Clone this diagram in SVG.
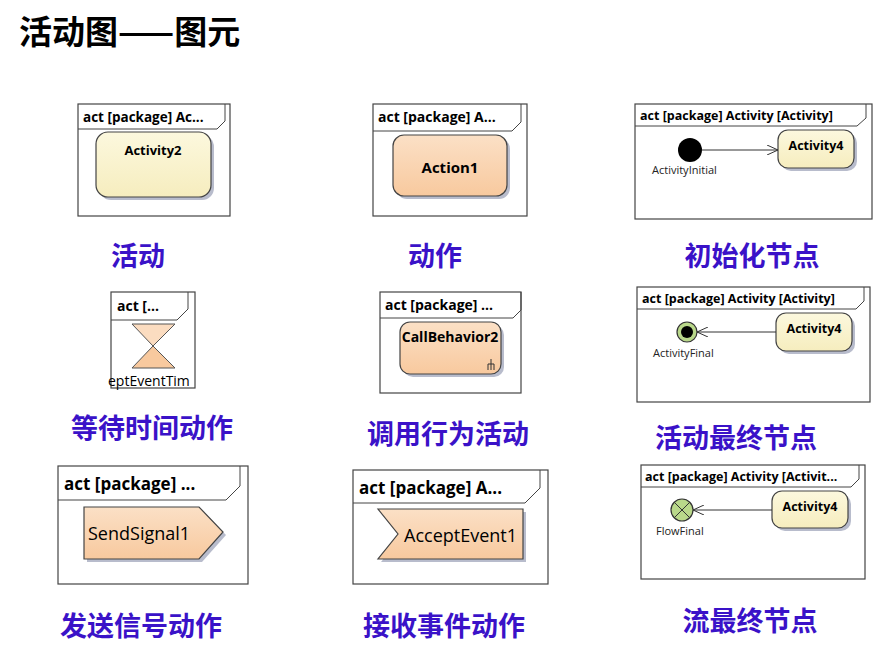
<svg xmlns="http://www.w3.org/2000/svg" width="875" height="656" viewBox="0 0 875 656">
<defs>
<linearGradient id="gy" x1="0" y1="0" x2="0" y2="1"><stop offset="0" stop-color="#fcf8de"/><stop offset="1" stop-color="#f6edbe"/></linearGradient>
<linearGradient id="go" x1="0" y1="0" x2="0" y2="1"><stop offset="0" stop-color="#fbe0c6"/><stop offset="1" stop-color="#f8c99e"/></linearGradient>
<marker id="oa" markerWidth="12" markerHeight="10" refX="11" refY="5" orient="auto" markerUnits="userSpaceOnUse"><path d="M0,0 L11,5 L0,10" fill="none" stroke="#333" stroke-width="1"/></marker>
</defs>
<style>
.fr{fill:#fff;stroke:#444;stroke-width:1.2}
.hd{fill:none;stroke:#444;stroke-width:1}
.ft{font-family:"Open Sans","Noto Sans",sans-serif;font-weight:bold;fill:#000}
.lb{font-family:"Open Sans","Noto Sans",sans-serif;font-size:11px;fill:#222}
.cap{font-family:"Noto Sans CJK SC",sans-serif;font-weight:bold;font-size:27px;fill:#3a12c8}
.sh{fill:#b8bccc}
.ny{fill:url(#gy);stroke:#444;stroke-width:1.2}
.no{fill:url(#go);stroke:#444;stroke-width:1.2}
.cn{fill:none;stroke:#333;stroke-width:1}
</style>
<text x="19" y="44" font-family="Noto Sans CJK SC,sans-serif" font-weight="bold" font-size="33" fill="#000">活动图——图元</text>

<g id="f-activity">
<rect class="fr" x="78" y="104" width="152" height="112"/>
<path class="hd" d="M78,129 H217 L225,121 V104"/>
<text class="ft" x="83" y="122" font-size="13.5">act [package] Ac...</text>
<rect class="sh" x="99" y="135" width="115" height="65" rx="12"/>
<rect class="ny" x="96" y="132" width="115" height="65" rx="12"/>
<text class="ft" x="153" y="155" text-anchor="middle" font-size="13">Activity2</text>
</g>
<g id="f-action">
<rect class="fr" x="373" y="104" width="154" height="112"/>
<path class="hd" d="M373,131 H512 L521,122 V104"/>
<text class="ft" x="378" y="122" font-size="14">act [package] A...</text>
<rect class="sh" x="396" y="138" width="114" height="61" rx="11"/>
<rect class="no" x="393" y="135" width="114" height="61" rx="11"/>
<text class="ft" x="450" y="173" text-anchor="middle" font-size="15">Action1</text>
</g>
<g id="f-initial">
<rect class="fr" x="635" y="104" width="237" height="115"/>
<path class="hd" d="M635,126 H857 L866,118 V104"/>
<text class="ft" x="640" y="120" font-size="12.5">act [package] Activity [Activity]</text>
<circle cx="690" cy="150" r="12" fill="#000"/>
<text class="lb" x="652" y="174">ActivityInitial</text>
<rect class="sh" x="781" y="133" width="76" height="38" rx="10"/>
<rect class="ny" x="778" y="130" width="76" height="38" rx="10"/>
<text class="ft" x="816" y="150" text-anchor="middle" font-size="12.5">Activity4</text>
</g>
<g id="f-final">
<rect class="fr" x="637" y="287" width="233" height="115"/>
<path class="hd" d="M637,309 H856 L864,301 V287"/>
<text class="ft" x="642" y="303" font-size="12.5">act [package] Activity [Activity]</text>
<circle cx="687" cy="332" r="10" fill="#b9d88a" stroke="#333" stroke-width="1.2"/>
<circle cx="687" cy="332" r="6" fill="#000"/>
<text class="lb" x="653" y="357">ActivityFinal</text>
<rect class="sh" x="779" y="316" width="76" height="38" rx="10"/>
<rect class="ny" x="776" y="313" width="76" height="38" rx="10"/>
<text class="ft" x="814" y="333" text-anchor="middle" font-size="12.5">Activity4</text>
</g>
<g id="f-flowfinal">
<rect class="fr" x="641" y="465" width="224" height="114"/>
<path class="hd" d="M641,487 H851 L859,479 V465"/>
<text class="ft" x="645" y="481" font-size="12.5">act [package] Activity [Activit...</text>
<circle cx="682" cy="510" r="11" fill="#b9d88a" stroke="#333" stroke-width="1.2"/>
<path d="M674.2,502.2 L689.8,517.8 M689.8,502.2 L674.2,517.8" stroke="#333" stroke-width="1"/>
<text class="lb" x="656" y="535">FlowFinal</text>
<rect class="sh" x="775" y="494" width="76" height="37" rx="10"/>
<rect class="ny" x="772" y="491" width="76" height="37" rx="10"/>
<text class="ft" x="810" y="511" text-anchor="middle" font-size="12.5">Activity4</text>
</g>
<g id="f-timer">
<rect class="fr" x="111" y="292" width="84" height="96"/>
<path class="hd" d="M111,320 H177 L188,309 V292"/>
<text class="ft" x="117" y="311" font-size="14">act [...</text>
<path d="M132,324 H175 L153,346 Z" fill="#fbdcc0" stroke="#555"/>
<path d="M153,346 L175,368 H132 Z" fill="#f8c99e" stroke="#555"/>
<text font-family="Open Sans,Noto Sans,sans-serif" font-size="14" x="108" y="386">eptEventTim</text>
</g>
<g id="f-call">
<rect class="fr" x="380" y="292" width="141" height="101"/>
<path class="hd" d="M380,318 H513 L521,310 V292"/>
<text class="ft" x="385" y="310" font-size="14">act [package] ...</text>
<rect class="sh" x="403" y="325" width="101" height="52" rx="10"/>
<rect class="no" x="400" y="322" width="101" height="52" rx="10"/>
<text class="ft" x="450" y="342" text-anchor="middle" font-size="14">CallBehavior2</text>
<path d="M491,370 V359 M488,370 V364 H494 V370" fill="none" stroke="#333"/>
</g>
<g id="f-send">
<rect class="fr" x="58" y="466" width="190" height="118"/>
<path class="hd" d="M58,500 H226 L240,486 V466"/>
<text class="ft" x="64" y="490" font-size="17">act [package] ...</text>
<path d="M87,510 H202 L226,535 L202,562 H87 Z" fill="#b8bccc"/>
<path d="M84,507 H199 L223,532 L199,559 H84 Z" fill="url(#go)" stroke="#444" stroke-width="1.2"/>
<text font-family="Open Sans,Noto Sans,sans-serif" font-size="18" x="88" y="540">SendSignal1</text>
</g>
<g id="f-accept">
<rect class="fr" x="353" y="470" width="195" height="114"/>
<path class="hd" d="M353,503 H525 L540,488 V470"/>
<text class="ft" x="359" y="494" font-size="17">act [package] A...</text>
<path d="M381,512 H526 V562 H381 L401,537 Z" fill="#b8bccc"/>
<path d="M378,509 H523 V559 H378 L398,534 Z" fill="url(#go)" stroke="#444" stroke-width="1.2"/>
<text font-family="Open Sans,Noto Sans,sans-serif" font-size="18" x="404" y="542">AcceptEvent1</text>
</g>

<g id="connectors">
<line class="cn" x1="702" y1="150" x2="778" y2="150" marker-end="url(#oa)"/>
<line class="cn" x1="776" y1="332" x2="697" y2="332" marker-end="url(#oa)"/>
<line class="cn" x1="772" y1="510" x2="693" y2="510" marker-end="url(#oa)"/>
</g>

<g id="captions">
<text class="cap" x="138" y="266" text-anchor="middle">活动</text>
<text class="cap" x="435" y="266" text-anchor="middle">动作</text>
<text class="cap" x="752" y="266" text-anchor="middle">初始化节点</text>
<text class="cap" x="152" y="438" text-anchor="middle">等待时间动作</text>
<text class="cap" x="448" y="444" text-anchor="middle">调用行为活动</text>
<text class="cap" x="736" y="448" text-anchor="middle">活动最终节点</text>
<text class="cap" x="141" y="636" text-anchor="middle">发送信号动作</text>
<text class="cap" x="444" y="636" text-anchor="middle">接收事件动作</text>
<text class="cap" x="750" y="631" text-anchor="middle">流最终节点</text>
</g>
</svg>
